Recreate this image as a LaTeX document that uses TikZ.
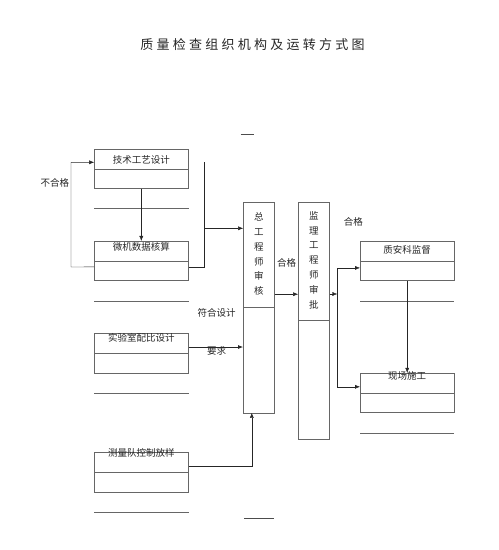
\documentclass[tikz,border=0pt]{standalone}
\usepackage{fontspec}
\setmainfont{Noto Sans CJK SC}
\newfontfamily\titlefont[LetterSpace=25]{Noto Sans CJK SC}
\usetikzlibrary{calc,arrows.meta}

\begin{document}
\begin{tikzpicture}[x=1pt,y=-1pt,
    box/.style={draw=black!60, minimum width=94pt, minimum height=39.5pt, inner sep=0pt},
    tall/.style={draw=black!60, minimum width=31pt, inner sep=0pt},
    txt/.style={font=\fontsize{9.5}{10}\selectfont, text=black!85, inner sep=0pt},
    vtxt/.style={font=\fontsize{9.5}{14.8}\selectfont, text=black!85, align=center, inner sep=0pt},
    arr/.style={-{Latex[length=5pt,width=4pt]}, black!85}]
    \useasboundingbox (0,0) rectangle (499,550);
    \node[font=\titlefont\fontsize{13}{14}\selectfont, text=black!85] (title) at (252.6,45) {质量检查组织机构及运转方式图};
    \draw[black!70] (240.7,134) -- (254,134);
    \draw[black!70] (244,518.3) -- (274,518.3);
    % left boxes
    \node[box] (jishu) at (141.3,168.7) {};
    \node[box] (weiji) at (141.3,260.9) {};
    \node[box] (shiyan) at (141.3,353.3) {};
    \node[box] (celiang) at (141.3,472.3) {};
    \node[txt] (tjishu) at (141.3,160) {技术工艺设计};
    \node[txt] (tweiji) at (141.3,246.7) {微机数据核算};
    \node[txt] (tshiyan) at (141.3,337.7) {实验室配比设计};
    \node[txt] (tceliang) at (141.3,453.3) {测量队控制放样};
    % right boxes
    \node[box] (zhian) at (407.2,260.9) {};
    \node[box] (xianchang) at (407.2,392.8) {};
    \node[txt] (tzhian) at (407.2,250) {质安科监督};
    \node[txt] (txianchang) at (407.2,375.5) {现场施工};
    % tall boxes
    \node[tall, minimum height=211pt] (zong) at (258.8,307.2) {};
    \node[tall, minimum height=237.6pt] (jianli) at (313.8,320.5) {};
    \node[vtxt] (tzong) at (258.8,254) {总\\工\\程\\师\\审\\核};
    \node[vtxt] (tjianli) at (313.8,260) {监\\理\\工\\程\\师\\审\\批};
    \foreach \b in {jishu,weiji,shiyan,celiang,zhian,xianchang,zong,jianli}
        \draw[black!60] (\b.west) -- (\b.east);
    \foreach \b in {jishu,weiji,shiyan,celiang,zhian,xianchang}
        \draw[black!60] ([yshift=-20pt]\b.south west) -- ([yshift=-20pt]\b.south east);
    % connectors
    \coordinate (fb) at (71,267);
    \coordinate (br) at (204,162);
    \coordinate (bm) at (204,228.3);
    \coordinate (sp) at (337.3,294);
    \draw[arr] (jishu.south) -- (weiji.north);
    \draw[arr] ([yshift=-6pt]weiji.west) -- (fb) |- ([yshift=6.4pt]jishu.west);
    \draw[black!85] ([yshift=-6pt]weiji.east) -| (br);
    \draw[arr] (bm) -- (bm -| zong.west);
    \draw[arr, line width=0.8pt] ([yshift=6.3pt]shiyan.east) -- ([yshift=6.3pt]shiyan.east -| zong.west);
    \draw[arr] ([yshift=6.6pt]celiang.east) -| ([xshift=-7pt]zong.south);
    \draw[arr] ([yshift=13pt]zong.east) -- ([yshift=13pt]zong.east -| jianli.west);
    \draw[arr] (sp -| jianli.east) -- (sp);
    \draw[arr] (sp) |- ([yshift=-7pt]zhian.west);
    \draw[arr] (sp) |- ([yshift=6pt]xianchang.west);
    \draw[arr] (zhian.south) -- (xianchang.north);
    % labels
    \node[txt] (lbuhege) at (55,183) {不合格};
    \node[txt] (lfuhe) at (216.7,313.3) {符合设计};
    \node[txt] (lyaoqiu) at (216.7,351) {要求};
    \node[txt] (lhege) at (286.7,262.7) {合格};
    \node[txt] (lhege2) at (353.3,222.3) {合格};
\end{tikzpicture}
\end{document}
